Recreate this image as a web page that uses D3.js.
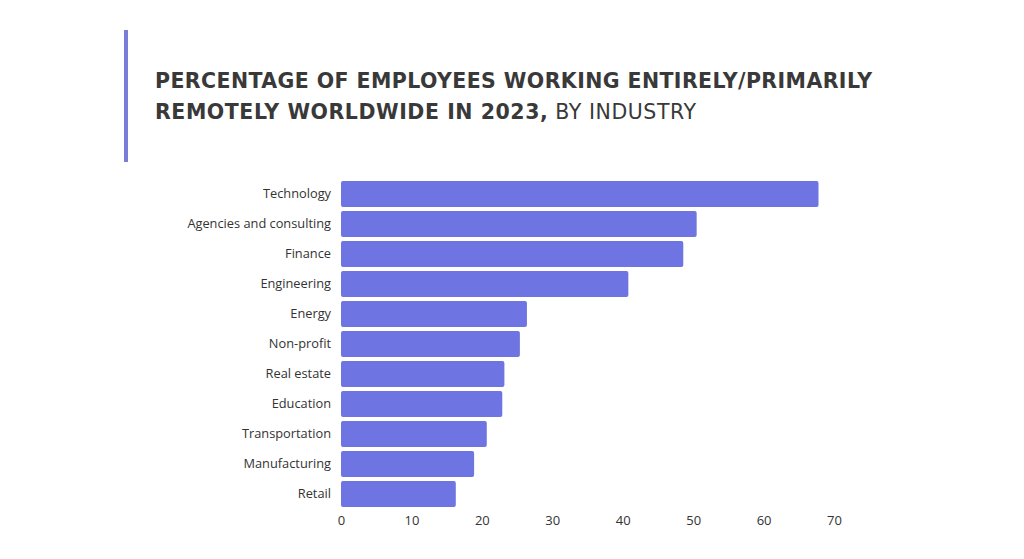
<!DOCTYPE html>
<html><head><meta charset="utf-8">
<script src="https://cdn.jsdelivr.net/npm/d3@7"></script>
<style>body{margin:0;background:#fff}svg{display:block}</style>
</head><body>
<svg id="c" width="1024" height="559"></svg>
<script>
const categories = ["Technology","Agencies and consulting","Finance","Engineering","Energy","Non-profit","Real estate","Education","Transportation","Manufacturing","Retail"];
const values = [67.8,50.5,48.6,40.8,26.4,25.4,23.2,22.9,20.7,18.9,16.3];
const ticks = [0,10,20,30,40,50,60,70];

const svg = d3.select("#c");
const x = d3.scaleLinear().domain([0,70]).range([341,834]);
const y = d3.scaleBand().domain(categories).range([179,509]).paddingInner(0.13).paddingOuter(0.065);

// accent bar
svg.append("rect").attr("x",124).attr("y",30).attr("width",4).attr("height",132).attr("fill","#7b7ed9");

// title
const tf = "DejaVu Sans";
const t1 = svg.append("text").attr("x",155).attr("y",88).attr("font-family",tf).attr("font-weight","bold").attr("font-size",20.5).attr("fill","#393939").text("PERCENTAGE OF EMPLOYEES WORKING ENTIRELY/PRIMARILY");
const t2 = svg.append("text").attr("x",155).attr("y",119).attr("font-family",tf).attr("font-size",20.5).attr("fill","#393939");
t2.append("tspan").attr("font-weight","bold").text("REMOTELY WORLDWIDE IN 2023,");
t2.append("tspan").attr("font-weight","normal").text(" BY INDUSTRY");
function fit(el, target){
  const n = el.text().length;
  const w = el.node().getComputedTextLength();
  el.attr("letter-spacing", ((target - w)/(n-1)).toFixed(3));
}
fit(t1, 717);
fit(t2, 541);

// bars
svg.append("g").selectAll("rect").data(categories).join("rect")
  .attr("x", x(0)).attr("y", d=>y(d))
  .attr("width", (d,i)=>x(values[i])-x(0))
  .attr("height", y.bandwidth())
  .attr("rx",2)
  .attr("fill","#6e74e2");

// y axis labels
const yAxis = d3.axisLeft(y).tickSize(0).tickPadding(10);
const gy = svg.append("g").attr("transform",`translate(${x(0)},0)`).call(yAxis);
gy.select(".domain").remove();
gy.selectAll("text").attr("font-family","Open Sans").attr("font-size",12.8).attr("fill","#333");

// x axis
const xAxis = d3.axisBottom(x).tickValues(ticks).tickSize(0).tickPadding(7);
const gx = svg.append("g").attr("transform","translate(0,509)").call(xAxis);
gx.select(".domain").remove();
gx.selectAll("text").attr("font-family","Open Sans").attr("font-size",13).attr("fill","#333");
</script>
</body></html>
